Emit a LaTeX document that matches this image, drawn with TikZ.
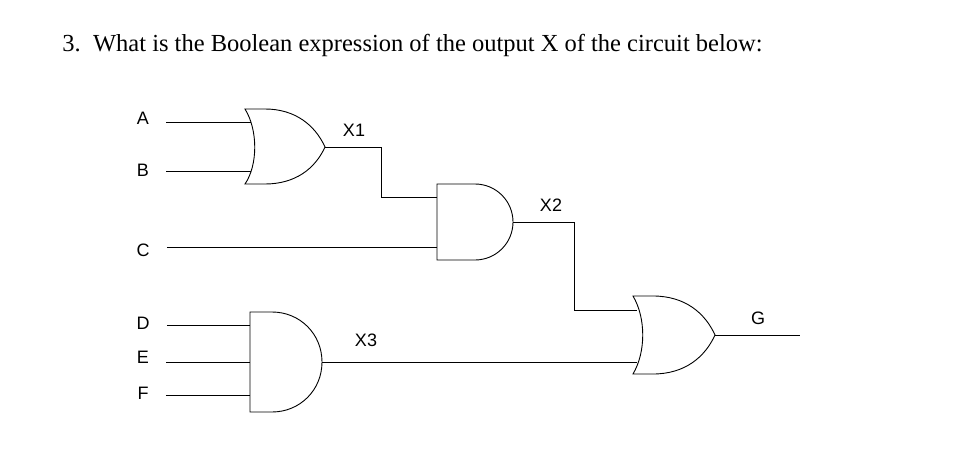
\documentclass[tikz,border=0pt]{standalone}
\usepackage{fontspec}
\setmainfont{Liberation Serif}
\newfontfamily\lblfont{Liberation Sans}
\begin{document}
\begin{tikzpicture}[x=1pt,y=-1pt,line width=0.9pt,
  lbl/.style={font=\lblfont\fontsize{18}{20}\selectfont,inner sep=0pt},
  wire/.style={line width=0.9pt}]
\useasboundingbox (0,0) rectangle (954,452);
\node[anchor=west,inner sep=0pt,font=\fontsize{24.5}{28}\selectfont] (title) at (62,45) {3.\ \ What is the Boolean expression of the output X of the circuit below:};
% labels
\node[lbl] (A) at (143,118) {A};
\node[lbl] (B) at (143,170) {B};
\node[lbl] (C) at (143,250) {C};
\node[lbl] (D) at (143,323) {D};
\node[lbl] (E) at (143,357) {E};
\node[lbl] (F) at (143,393) {F};
\node[lbl] (x1) at (354,130) {X1};
\node[lbl] (x2) at (551,205) {X2};
\node[lbl] (x3) at (366,340) {X3};
\node[lbl] (g) at (758,318) {G};
% OR1
\draw (245,109) .. controls (258,130) and (258,165) .. (245,184)
  -- (265,184) .. controls (295,184) and (315,169) .. (325,147)
  .. controls (315,125) and (295,109) .. (265,109) -- cycle;
\coordinate (o1) at (325,147);
% AND2
\draw (437,184) -- (475,184) .. controls (496,184) and (513,201) .. (513,222)
  .. controls (513,243) and (496,260) .. (475,260) -- (437,260) -- cycle;
\coordinate (o2) at (513,222);
% AND3
\draw (250,312) -- (272,312) .. controls (300,312) and (322,334) .. (322,362)
  .. controls (322,390) and (300,412) .. (272,412) -- (250,412) -- cycle;
\coordinate (o3) at (322,362);
% OR3
\draw (633,296) .. controls (646,318) and (646,352) .. (633,374)
  -- (653,374) .. controls (685,374) and (705,357) .. (715,335)
  .. controls (705,313) and (685,296) .. (653,296) -- cycle;
\coordinate (o4) at (715,335);
% wires
\coordinate (a1) at (251,122); \coordinate (b1) at (251,171);
\draw[wire] (A.east)++(17,4) coordinate (as) -- (a1);
\draw[wire] (B.east)++(17,1) coordinate (bs) -- (b1);
\draw[wire] (C.east)++(17,-3) coordinate (cs) -- (437,247);
\draw[wire] (D.east)++(17,2) coordinate (ds) -- (250,325);
\draw[wire] (E.east)++(17,5) coordinate (es) -- (250,362);
\draw[wire] (F.east)++(17,2) coordinate (fs) -- (250,395);
\draw[wire] (o1) -- (381,147) -- (381,197) -- (437,197);
\draw[wire] (o2) -- (574,222) -- (574,310) -- (637,310);
\draw[wire] (o3) -- (637,362);
\draw[wire] (o4) -- (800,335);
\end{tikzpicture}
\end{document}
